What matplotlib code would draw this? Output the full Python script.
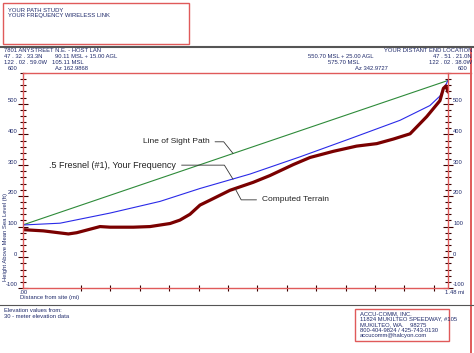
import matplotlib
matplotlib.use('Agg')
import matplotlib.pyplot as plt
from matplotlib.lines import Line2D
from matplotlib.patches import Rectangle
from matplotlib.ticker import MultipleLocator, FixedLocator
from matplotlib.transforms import ScaledTranslation

plt.rcParams['font.family'] = ['Liberation Sans', 'DejaVu Sans']

# path profile data (distance in miles, height in ft)
terrain_x = [0.0, 0.072, 0.159, 0.188, 0.269, 0.304, 0.385, 0.443, 0.513, 0.547,
             0.582, 0.617, 0.652, 0.721, 0.802, 0.860, 0.942, 1.000, 1.081, 1.162,
             1.232, 1.290, 1.348, 1.406, 1.452, 1.464, 1.473, 1.48]
terrain_y = [90, 86, 76, 80, 100, 98, 98, 100, 110, 121,
             140, 170, 186, 218, 244, 266, 302, 325, 345, 362,
             370, 385, 402, 458, 510, 550, 558, 538]

fresnel_x = [0.0, 0.130, 0.304, 0.478, 0.617, 0.791, 0.965, 1.139, 1.313, 1.417, 1.452, 1.48]
fresnel_y = [105.11, 111, 144, 182, 224, 271, 327, 386, 446, 494, 525, 575.70]

los_x = [0.0, 1.48]
los_y = [105.11, 575.70]

x_ticks = [0.203, 0.305, 0.407, 0.510, 0.612, 0.714, 0.817, 0.919, 1.021, 1.124, 1.226, 1.328, 1.431]
y_major = [-100, 0, 100, 200, 300, 400, 500]

W, H = 474, 353
navy = '#1f2a6b'
red = '#e05a5a'

fig = plt.figure(figsize=(W / 100, H / 100), dpi=100)


def fx(x):
    return x / W


def fy(y):
    return 1 - y / H


def fline(x0, y0, x1, y1, color, lw):
    fig.add_artist(Line2D([fx(x0), fx(x1)], [fy(y0), fy(y1)], color=color, lw=lw,
                          transform=fig.transFigure))


def ftext(x, y, s, **kw):
    kw.setdefault('fontsize', 4.2)
    kw.setdefault('color', navy)
    kw.setdefault('va', 'center')
    fig.text(fx(x), fy(y), s, **kw)


# plot area
ax = fig.add_axes([fx(22.7), fy(288), fx(448) - fx(22.7), fy(73) - fy(288)])
ax.set_xlim(0, 1.48)
ax.set_ylim(-100, 600)
for s in ['left', 'right', 'bottom']:
    ax.spines[s].set_color(red)
    ax.spines[s].set_linewidth(1.0)
ax.spines['top'].set_visible(False)

ax.plot(los_x, los_y, color='#2e8b3a', lw=0.8)
ax.plot(fresnel_x, fresnel_y, color='#2a2ae8', lw=0.8)
ax.plot(terrain_x, terrain_y, color='#7a0000', lw=2.3, solid_capstyle='round')

ax.yaxis.set_major_locator(FixedLocator(y_major))
ax.yaxis.set_minor_locator(MultipleLocator(20))
ax.xaxis.set_major_locator(FixedLocator(x_ticks))
ax.set_xticklabels([])
ax.set_yticklabels([str(v) for v in y_major])
ax.tick_params(axis='y', which='major', direction='inout', length=7.5, width=0.8,
               color='#3a0000', left=True, right=True, labelleft=True, labelright=True,
               labelsize=4.2, labelcolor=navy, pad=0)
ax.tick_params(axis='y', which='minor', direction='inout', length=5, width=0.8,
               color='#3a0000', left=True, right=True)
ax.tick_params(axis='x', which='major', direction='inout', length=5, width=0.8,
               color='#3a0000')

# height labels sit a little above their ticks
lift = ScaledTranslation(0, 3.5 / 100, fig.dpi_scale_trans)
for tick in ax.yaxis.get_major_ticks():
    tick.label1.set_transform(tick.label1.get_transform() + lift)
    tick.label2.set_transform(tick.label2.get_transform() + lift)

# callouts
ax.annotate('Line of Sight Path', xy=(0.732, 338), xytext=(0.65, 376),
            ha='right', va='center', fontsize=6, color='#222222',
            arrowprops=dict(arrowstyle='-', color='#333333', lw=0.6, relpos=(1, 0.5),
                            shrinkA=2, shrinkB=0,
                            connectionstyle='angle,angleA=0,angleB=128.7,rad=0'))
ax.annotate('.5 Fresnel (#1), Your Frequency', xy=(0.732, 254), xytext=(0.092, 300),
            ha='left', va='center', fontsize=6.5, color='#222222',
            arrowprops=dict(arrowstyle='-', color='#333333', lw=0.6, relpos=(1, 0.5),
                            shrinkA=2, shrinkB=0,
                            connectionstyle='angle,angleA=0,angleB=121.6,rad=0'))
ax.annotate('Computed Terrain', xy=(0.739, 224), xytext=(0.833, 187),
            ha='left', va='center', fontsize=6, color='#222222',
            arrowprops=dict(arrowstyle='-', color='#333333', lw=0.6, relpos=(0, 0.5),
                            shrinkA=2, shrinkB=0,
                            connectionstyle='angle,angleA=0,angleB=118.3,rad=0'))

# frame lines
fline(22.7, 73, 471, 73, red, 1.0)
fline(471, 47, 471, H, red, 1.4)
fline(0, 47, W, 47, '#555555', 1.5)
fline(0, 305, W, 305, '#555555', 0.8)

# title box
fig.add_artist(Rectangle((fx(3), fy(44)), fx(189) - fx(3), fy(3) - fy(44),
                         transform=fig.transFigure, fill=False, ec=red, lw=1.0))
ftext(8, 10, 'YOUR PATH STUDY')
ftext(8, 16, 'YOUR FREQUENCY WIRELESS LINK')

# site headers
ftext(4, 50, '7801 ANYSTREET N.E. - HOST LAN')
ftext(4, 56, '47 . 32 . 33.3N')
ftext(55, 56, '90.11 MSL + 15.00 AGL')
ftext(4, 62, '122 . 02 . 59.0W')
ftext(52, 62, '105.11 MSL')
ftext(8, 68, '600')
ftext(55, 68, 'Az 162.9868')

ftext(472, 50, 'YOUR DISTANT END LOCATION', ha='right')
ftext(373, 56, '550.70 MSL + 25.00 AGL', ha='right')
ftext(472, 56, '47 . 51 . 21.0N', ha='right')
ftext(360, 62, '575.70 MSL', ha='right')
ftext(472, 62, '122 . 02 . 38.0W', ha='right')
ftext(388, 68, 'Az 342.9727', ha='right')
ftext(467, 68, '600', ha='right')

# axis captions
ftext(19, 292, '.00', ha='left')
ftext(6, 237, 'Height Above Mean Sea Level (ft)', rotation=90, ha='center')
ftext(20, 297.5, 'Distance from site (mi)', ha='left')
ftext(445, 292, '1.48 mi', ha='left')

# footer
ftext(4, 310, 'Elevation values from:')
ftext(4, 316, '30 - meter elevation data')
fig.add_artist(Rectangle((fx(355), fy(341)), fx(449) - fx(355), fy(309) - fy(341),
                         transform=fig.transFigure, fill=False, ec=red, lw=1.0))
for i, s in enumerate(['ACCU-COMM, INC.', '11824 MUKILTEO SPEEDWAY, #105',
                       'MUKILTEO, WA.    98275', '800-404-9824 / 425-743-0130',
                       'accucomm@halcyon.com']):
    ftext(360, 313.5 + 5.5 * i, s)

fig.savefig('out.png', dpi=100)
